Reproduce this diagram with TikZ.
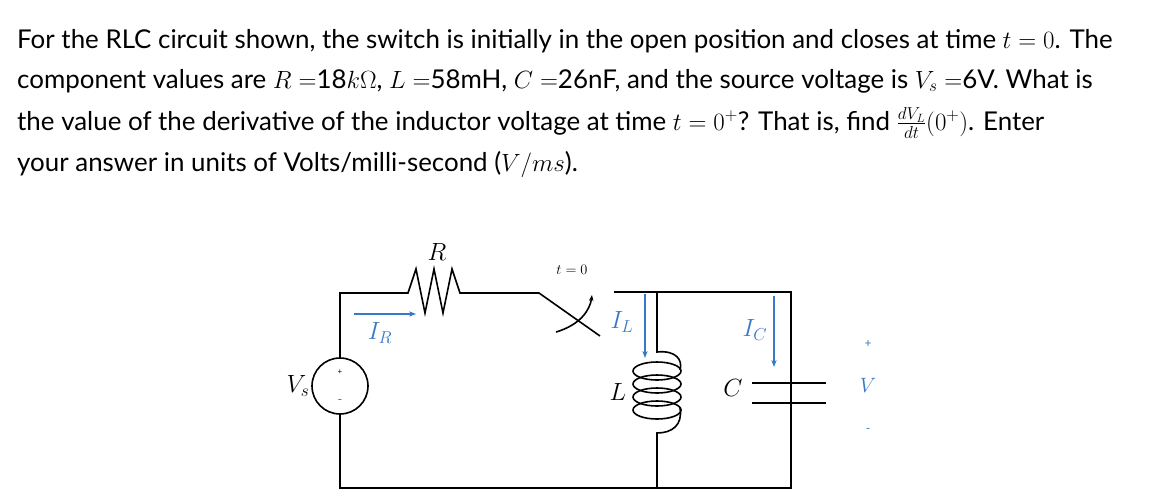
\documentclass[tikz,border=0pt]{standalone}
\usepackage{fontspec}
\setmainfont{Lato}
\usepackage{amsmath}
\usetikzlibrary{arrows.meta}
\definecolor{cblue}{RGB}{55,120,200}
\begin{document}
\begin{tikzpicture}[x=1pt,y=-1pt,
  txt/.style={anchor=base west,inner sep=0,font=\fontsize{25.9}{28}\selectfont},
  lab/.style={inner sep=0,font=\fontsize{24}{26}\selectfont},
  wire/.style={line width=1.6pt},
  cur/.style={cblue,line width=1.9pt,-{Stealth[length=7pt]}}]
\useasboundingbox (0,0) rectangle (1150,498);
\node[txt] (l1) at (17,48) {For the RLC circuit shown, the switch is initially in the open position and closes at time $t=0$. The};
\node[txt] (l2) at (17,88) {component values are $R=$18$k\Omega$, $L=$58mH, $C=$26nF, and the source voltage is $V_s=$6V. What is};
\node[txt] (l3) at (17,130) {the value of the derivative of the inductor voltage at time $t=0^{+}$? That is, find $\frac{dV_L}{dt}(0^{+})$. Enter};
\node[txt] (l4) at (17,171) {your answer in units of Volts/milli-second ($V/ms$).};
% source
\node[draw,circle,minimum size=56pt,inner sep=0,line width=1.6pt] (vs) at (340,386) {};
\node[font=\footnotesize] (vp) at (340,372) {+};
\node[font=\footnotesize] (vm) at (340,401) {--};
\coordinate (tl) at (340,293);
\coordinate (bl) at (340,488);
\coordinate (r1) at (408,293);
\coordinate (r2) at (468,293);
\coordinate (sw1) at (539,293);
\coordinate (sw2) at (600,336);
\coordinate (tr1) at (614,292);
\coordinate (nl) at (657,292);
\coordinate (tr) at (791,292);
\coordinate (br) at (791,488);
\coordinate (nlb) at (657,488);
\draw[wire] (vs.north) -- (tl) -- (r1) -- ++(8,-24) -- ++(9,44) -- ++(9,-44) -- ++(9,44) -- ++(9,-44) -- ++(8,24) -- (r2) -- (sw1) -- (sw2);
\draw[wire,-{Stealth[length=6pt]}] (556,332) .. controls (580,325) and (590,310) .. (592,295);
\draw[wire] (vs.south) -- (bl) -- (br) -- (tr) -- (tr1);
% inductor
\draw[wire] (nl) -- (657,352) .. controls (676,350) and (683,360) .. (680,370);
\foreach \yy in {371,384,397,410} \draw[wire] (657,\yy) ellipse (24 and 9);
\draw[wire] (680,408) .. controls (683,425) and (672,433) .. (657,433) -- (nlb);
% capacitor
\draw[wire] (791,292) -- (791,383) (752,383) -- (826,383) (752,403) -- (826,403) (791,403) -- (791,488);
% labels
\node[lab,font=\fontsize{24}{26}\selectfont] (Rl) at (437,252) {$R$};
\node[lab,font=\fontsize{14}{16}\selectfont] (t0) at (572,270) {$t=0$};
\node[lab] (vsl) at (298,386) {$V_s$};
\node[lab] (Ll) at (618,392) {$L$};
\node[lab] (Cl) at (733,388) {$C$};
\node[lab,cblue] (IR) at (380,333) {$I_R$};
\node[lab,cblue] (IL) at (622,322) {$I_L$};
\node[lab,cblue] (IC) at (755,330) {$I_C$};
\draw[cur] (354,314) -- (416,314);
\draw[cur] (645,294) -- (645,358);
\draw[cur] (774,296) -- (774,367);
\node[lab,cblue,font=\large] (pl) at (868,344) {+};
\node[lab,cblue,font=\fontsize{20}{22}\selectfont] (Vl) at (868,385) {$V$};
\node[lab,cblue,font=\large] (mi) at (868,430) {-};
\end{tikzpicture}
\end{document}
